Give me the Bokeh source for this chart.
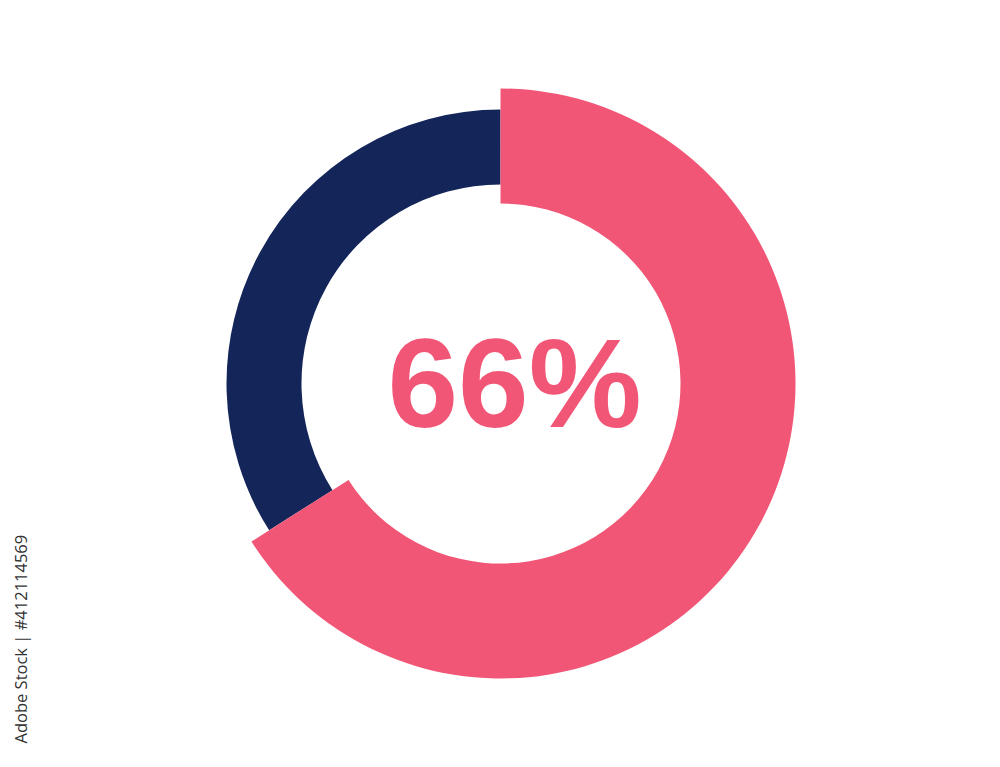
from bokeh.plotting import figure
from bokeh.models import Range1d
from bokeh.embed import file_html
from bokeh.resources import INLINE
from bokeh.core.properties import value
import math

# data
labels = ["Done", "Remaining"]
values = [66, 34]
colors = ["#F25676", "#14255A"]
center_label = "66%"
credit = "Adobe Stock | #412114569"

W, H = 984, 751
p = figure(width=W, height=H, output_backend="svg", toolbar_location=None,
           x_range=Range1d(0, W), y_range=Range1d(16, 16 + H),
           min_border=0)
p.axis.visible = False
p.grid.visible = False
p.outline_line_color = None
p.background_fill_color = "white"
p.border_fill_color = "white"

def Y(py):
    return 767 - py

cx, cy = 500, Y(383)
total = sum(values)
start = math.pi / 2
frac0 = values[0] / total
end0 = start - 2 * math.pi * frac0

# remaining (navy) thinner ring
p.annular_wedge(x=[cx], y=[cy], inner_radius=199, outer_radius=274,
                start_angle=[end0], end_angle=[start],
                direction="clock", fill_color=colors[1], line_color=None)
# main (pink) thicker ring
p.annular_wedge(x=[cx], y=[cy], inner_radius=180, outer_radius=295,
                start_angle=[start], end_angle=[end0],
                direction="clock", fill_color=colors[0], line_color=None)

p.text(x=[514], y=[Y(382)], text=[center_label], text_align="center",
       text_baseline="alphabetic", text_font=value("Liberation Sans"),
       text_font_style="bold",
       text_font_size="127px", text_color=colors[0])

p.text(x=[20], y=[Y(743)], text=[credit], angle=math.pi / 2,
       text_align="left", text_baseline="middle",
       text_font=value("Open Sans"), text_font_size="16.5px",
       text_color="#333333")

open("out.html", "w").write(file_html(p, INLINE))
